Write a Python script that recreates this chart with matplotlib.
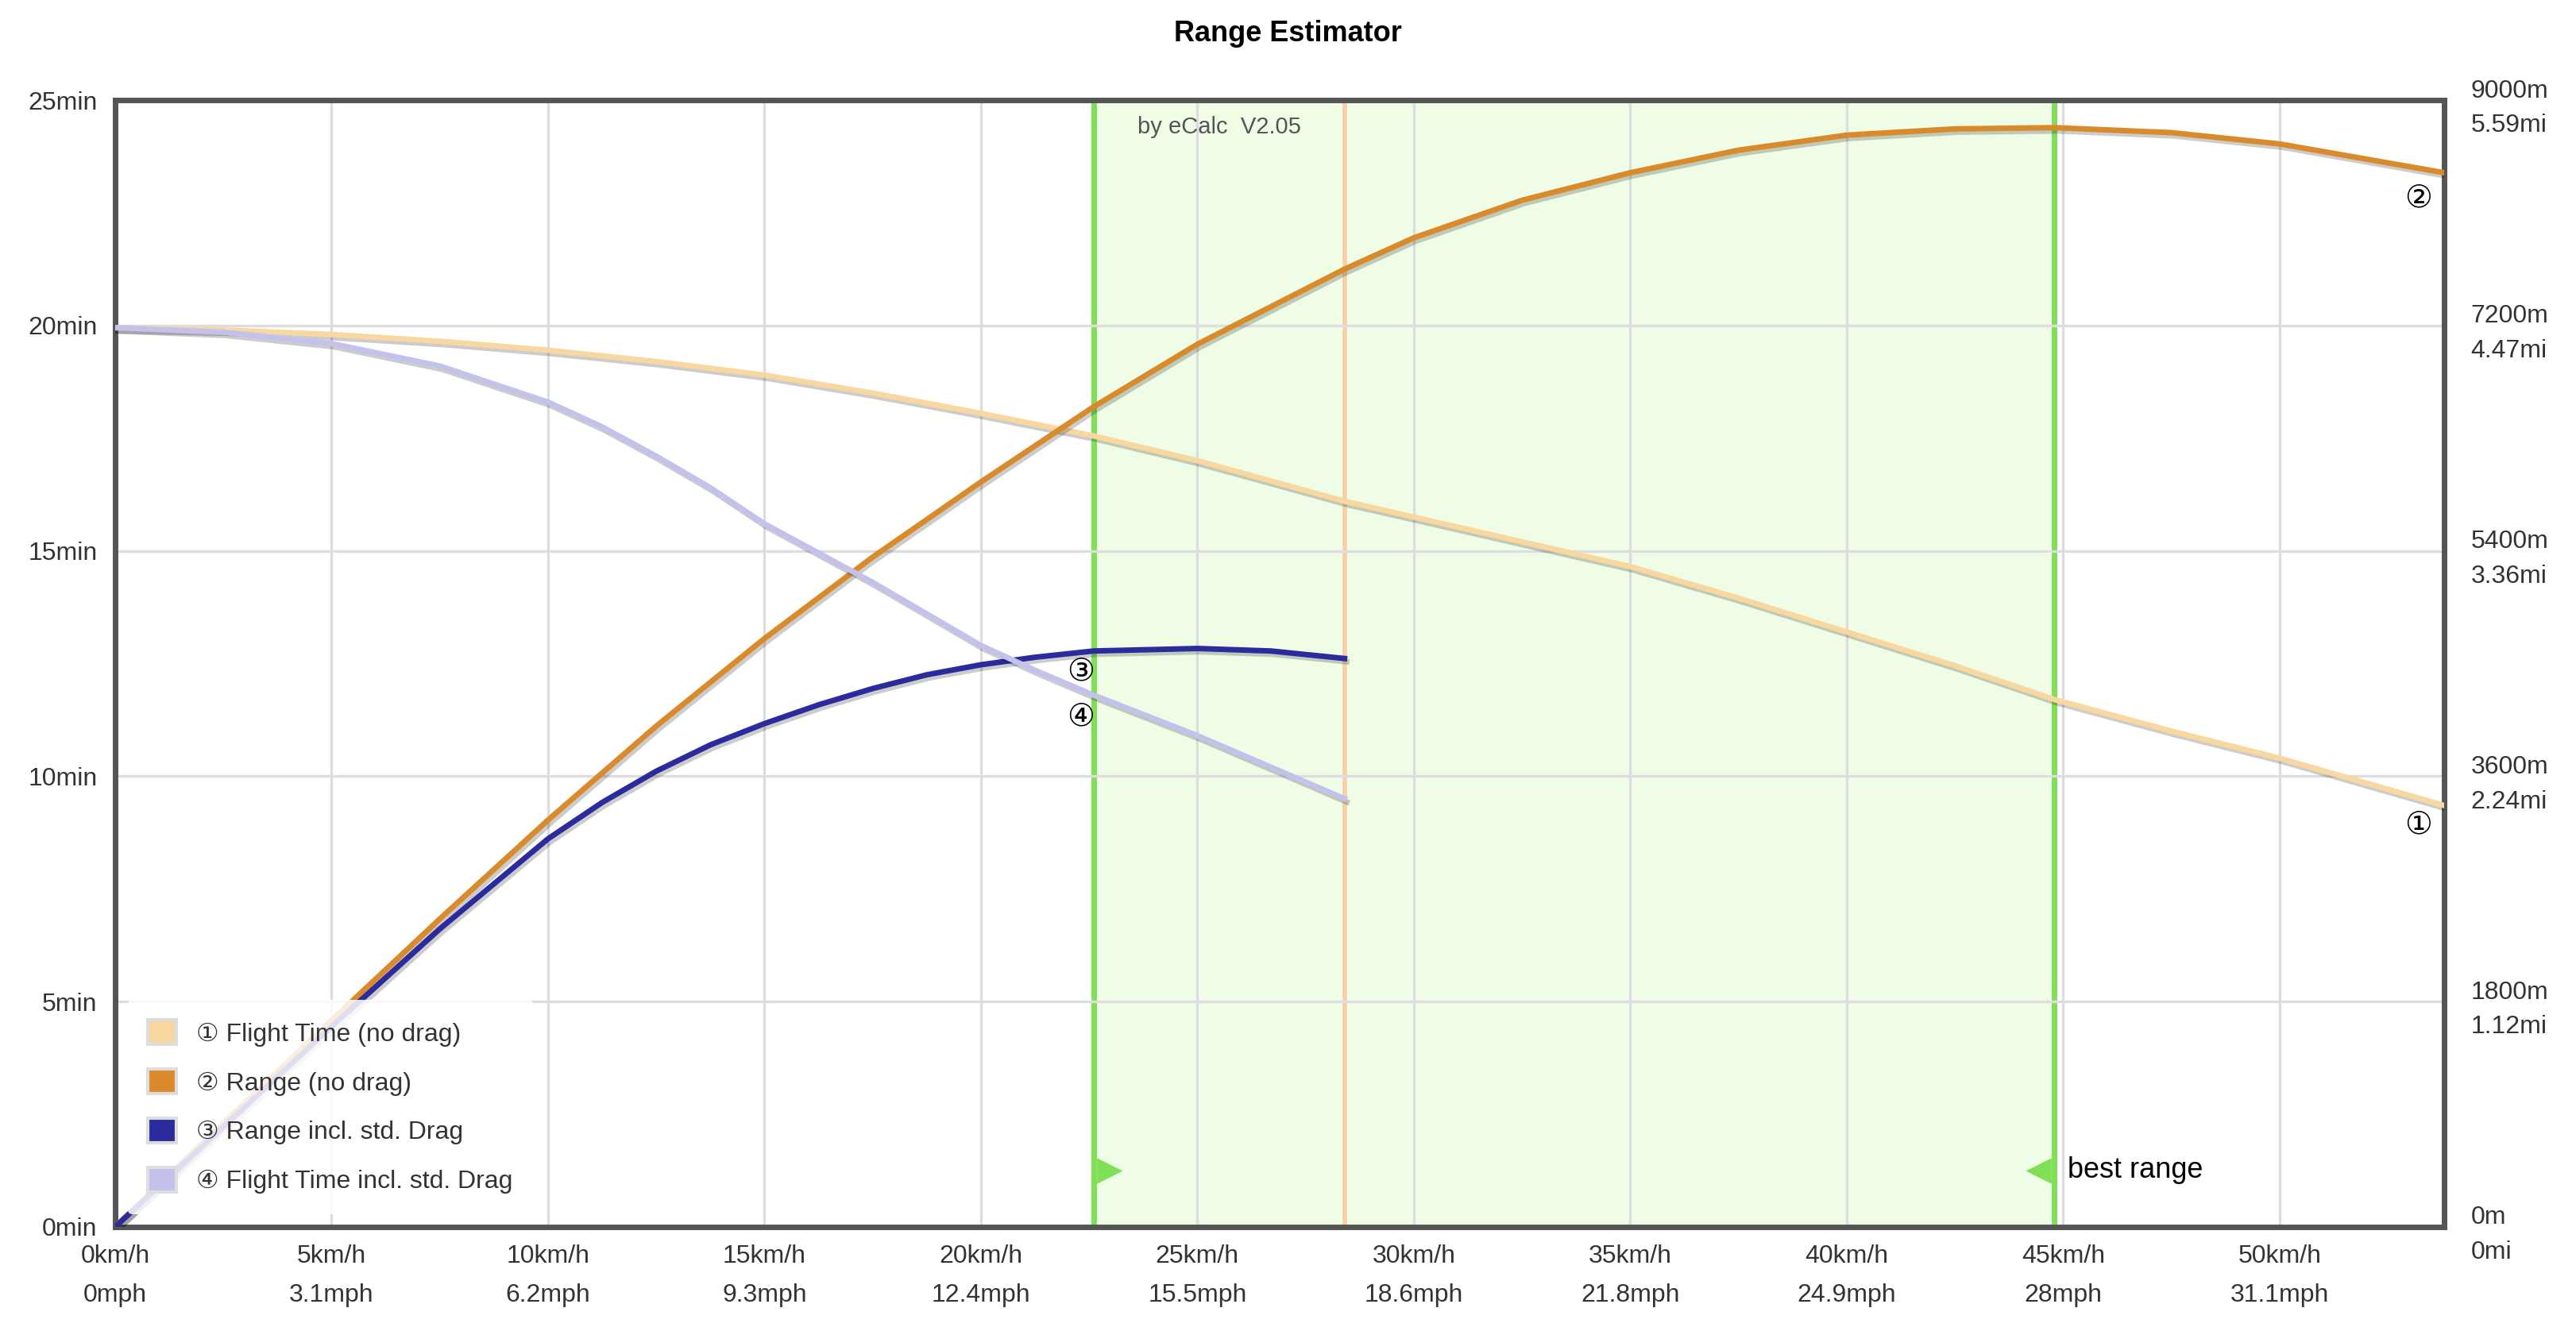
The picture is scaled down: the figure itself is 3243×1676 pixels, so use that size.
import matplotlib
matplotlib.use("Agg")
import matplotlib.pyplot as plt
import matplotlib.patheffects as pe
from matplotlib.patches import Patch

plt.rcParams['font.family'] = ['Liberation Sans', 'DejaVu Sans', 'Noto Sans CJK JP']

# speeds in km/h
speed = [0, 2.5, 5, 7.5, 10, 12.5, 15, 17.5, 20, 22.6, 25, 28.4, 30, 32.5, 35, 37.5, 40, 42.5, 44.8, 47.5, 50, 53.8]
flight_time = [19.95, 19.9, 19.8, 19.65, 19.45, 19.2, 18.9, 18.5, 18.05, 17.55, 17.0, 16.1, 15.75, 15.2, 14.65, 13.95, 13.2, 12.45, 11.7, 11.0, 10.4, 9.35]
range_nodrag = [0, 830, 1650, 2460, 3250, 4000, 4700, 5350, 5950, 6550, 7050, 7650, 7900, 8200, 8420, 8600, 8720, 8770, 8780, 8740, 8650, 8420]

speed_drag = [0, 2.5, 5, 7.5, 10, 11.25, 12.5, 13.75, 15, 16.25, 17.5, 18.75, 20, 21.25, 22.6, 25, 26.7, 28.4]
range_drag = [0, 800, 1600, 2380, 3100, 3390, 3640, 3850, 4020, 4170, 4300, 4410, 4490, 4550, 4600, 4620, 4600, 4540]
flight_time_drag = [19.95, 19.85, 19.6, 19.1, 18.3, 17.75, 17.1, 16.4, 15.6, 14.95, 14.3, 13.6, 12.9, 12.35, 11.8, 10.9, 10.2, 9.5]

opt_lo, opt_hi, cur_speed = 22.6, 44.8, 28.4
x_ticks = [0, 5, 10, 15, 20, 25, 30, 35, 40, 45, 50]
x_mph = ["0", "3.1", "6.2", "9.3", "12.4", "15.5", "18.6", "21.8", "24.9", "28", "31.1"]
y_ticks = [0, 5, 10, 15, 20, 25]
r_m = [0, 1800, 3600, 5400, 7200, 9000]
r_mi = ["0", "1.12", "2.24", "3.36", "4.47", "5.59"]

c_ft, c_rng, c_rngd, c_ftd = "#f8d7a0", "#d98b2b", "#2b2b9e", "#c2c2ec"
green = "#7fe057"

fig = plt.figure(figsize=(16.215, 8.38), dpi=200)
ax = fig.add_axes([0.0447, 0.0782, 0.9041, 0.8466])
ax.set_xlim(0, 53.8)
ax.set_ylim(0, 25)

ax.axvspan(opt_lo, opt_hi, color="#effce6", zorder=0)
ax.axvline(opt_lo, color=green, lw=2.5, zorder=1)
ax.axvline(opt_hi, color=green, lw=2.5, zorder=1)
ax.axvline(cur_speed, color="#f8cfa8", lw=2, zorder=1)
ax.plot([opt_lo + 0.35], [1.25], marker=">", color=green, ms=10, zorder=5)
ax.plot([opt_hi - 0.35], [1.25], marker="<", color=green, ms=10, zorder=5)
ax.text(opt_hi + 0.3, 1.25, "best range", fontsize=13, va="center")

shadow = [pe.SimpleLineShadow(offset=(1, -1.5), alpha=0.2), pe.Normal()]
ax.plot(speed, flight_time, color=c_ft, lw=2.5, path_effects=shadow, zorder=3)
ax.plot(speed, [r / 360 for r in range_nodrag], color=c_rng, lw=2.5, path_effects=shadow, zorder=3)
ax.plot(speed_drag, [r / 360 for r in range_drag], color=c_rngd, lw=2.5, path_effects=shadow, zorder=3)
ax.plot(speed_drag, flight_time_drag, color=c_ftd, lw=2.5, path_effects=shadow, zorder=3)

ax.text(53.2, 22.8, "②", fontsize=14, ha="center", va="center")
ax.text(53.2, 8.9, "①", fontsize=14, ha="center", va="center")
ax.text(22.3, 12.3, "③", fontsize=14, ha="center", va="center")
ax.text(22.3, 11.3, "④", fontsize=14, ha="center", va="center")
ax.text(25.5, 24.4, "by eCalc  V2.05", fontsize=10.5, color="#555555", ha="center", va="center")

ax.set_xticks(x_ticks)
ax.set_xticklabels([f"{k}km/h\n{m}mph" for k, m in zip(x_ticks, x_mph)], fontsize=11.5, color="#333333", linespacing=1.8)
ax.set_yticks(y_ticks)
ax.set_yticklabels([f"{t}min" for t in y_ticks], fontsize=11.5, color="#333333")
ax.tick_params(length=0, pad=8)
ax.grid(True, color="#dddddd", lw=1.2)
for s in ax.spines.values():
    s.set_color("#555555")
    s.set_linewidth(2.5)

ax2 = ax.twinx()
ax2.set_ylim(0, 9000)
ax2.set_yticks(r_m)
ax2.set_yticklabels([f"{m}m\n{mi}mi" for m, mi in zip(r_m, r_mi)], fontsize=11.5, color="#333333", linespacing=1.6)
ax2.tick_params(length=0, pad=12)
for s in ax2.spines.values():
    s.set_visible(False)

handles = [Patch(facecolor=c, edgecolor="#dddddd", lw=1.5) for c in (c_ft, c_rng, c_rngd, c_ftd)]
labels = ["① Flight Time (no drag)", "② Range (no drag)", "③ Range incl. std. Drag", "④ Flight Time incl. std. Drag"]
leg = ax.legend(handles, labels, loc="lower left", fontsize=11.5, frameon=True, framealpha=0.85,
                edgecolor="none", handlelength=1.1, handleheight=1.1, labelspacing=0.9, borderpad=0.8)
for t in leg.get_texts():
    t.set_color("#333333")

fig.suptitle("Range Estimator", fontsize=13, fontweight="bold", y=0.985)
fig.savefig("out.png", dpi=200)
